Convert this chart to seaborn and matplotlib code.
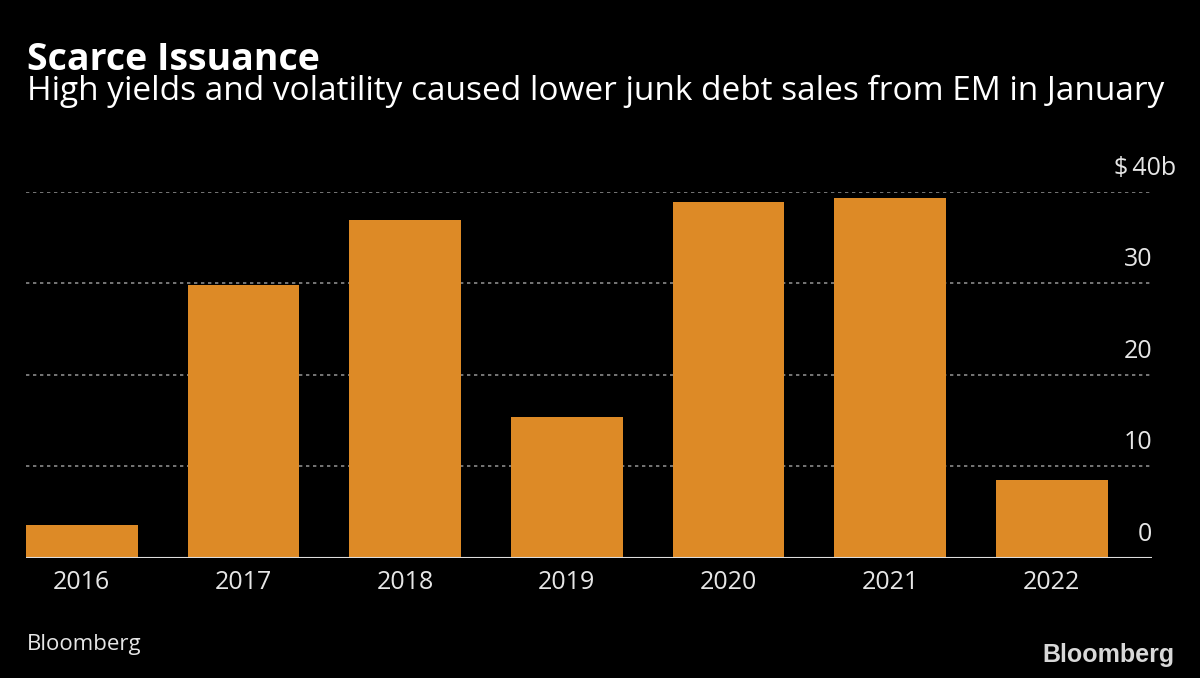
import matplotlib
matplotlib.use("Agg")
import matplotlib.pyplot as plt
import matplotlib.transforms as mtransforms
import pandas as pd
import seaborn as sns

# Data (EM junk debt sales in January, $ billions)
years = ["2016", "2017", "2018", "2019", "2020", "2021", "2022"]
sales = [3.6, 29.8, 36.9, 15.4, 38.9, 39.3, 8.5]
y_ticks = [0, 10, 20, 30, 40]
y_tick_labels = ["0", "10", "20", "30", "$\u200940b"]

title = "Scarce Issuance"
subtitle = "High yields and volatility caused lower junk debt sales from EM in January"
source = "Bloomberg"

BG = "black"
BAR = "#DD8A26"
TXT = "#E6E6E6"
FONT = ["Open Sans", "DejaVu Sans"]

df = pd.DataFrame({"year": years, "sales": sales})

sns.set_theme(style="dark")
plt.rcParams["font.family"] = FONT

fig = plt.figure(figsize=(12, 6.78), dpi=100, facecolor=BG)
ax = fig.add_axes([0.0217, 0.177, 0.9383, 0.5403])
ax.set_facecolor(BG)

sns.barplot(data=df, x="year", y="sales", color=BAR, width=0.69,
            saturation=1, linewidth=0, ax=ax)

ax.set_xlim(-0.345, 6.62)
ax.set_ylim(0, 40)
for s in ax.spines.values():
    s.set_visible(False)

# dotted grid lines + right-side labels sitting above them
for v in y_ticks:
    if v > 0:
        ax.axhline(v, color="#8a8a8a", lw=1.2, ls=(0, (2, 2.2)), zorder=0)
ax.axhline(0, color="#dddddd", lw=1.5, zorder=3)
trans = mtransforms.blended_transform_factory(ax.transAxes, ax.transData)
for v, lab in zip(y_ticks, y_tick_labels):
    ax.text(1.0, v + 1.2, lab, transform=trans, ha="right", va="bottom",
            color=TXT, fontsize=18, clip_on=False)
# "b" hangs past the axis edge in the original: nudge the top label
ax.texts[-1].set_position((1.021, 40 + 1.2))

ax.set_yticks([])
ax.set_xlabel("")
ax.set_ylabel("")
ax.tick_params(axis="x", length=0, pad=9, labelsize=18, labelcolor=TXT)

fig.text(0.0225, 0.897, title, color="white", fontsize=27, fontweight="bold",
         ha="left", va="baseline")
fig.text(0.0225, 0.852, subtitle, color="white", fontsize=24,
         ha="left", va="baseline")
fig.text(0.0225, 0.042, source, color=TXT, fontsize=16,
         ha="left", va="baseline")
fig.text(0.979, 0.024, "Bloomberg", color="#d8d8d8", fontsize=18,
         fontweight="bold", ha="right", va="baseline",
         family=["Liberation Sans", "DejaVu Sans"])

fig.savefig("out.png", dpi=100, facecolor=BG)
